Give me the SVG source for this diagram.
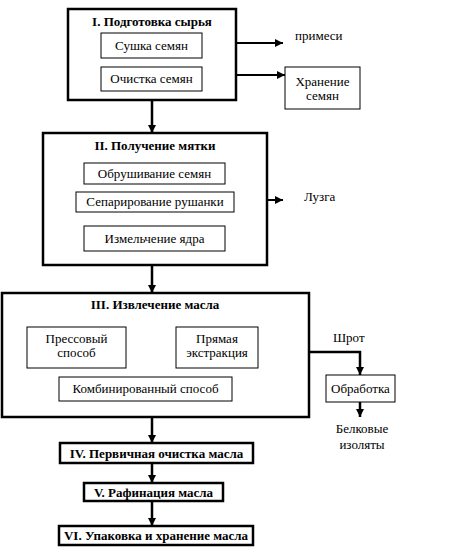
<svg xmlns="http://www.w3.org/2000/svg" width="467" height="560" viewBox="0 0 467 560">
<defs>
<marker id="ah" markerUnits="userSpaceOnUse" markerWidth="9" markerHeight="8" refX="8" refY="4" orient="auto">
<path d="M0,0 L8,4 L0,8 z" fill="#000"/>
</marker>
<style>
.big{fill:#fff;stroke:#000;stroke-width:2.5}
.sm{fill:#fff;stroke:#000;stroke-width:1}
text{font-family:'Liberation Serif','DejaVu Serif','Times New Roman',serif;font-size:13px;fill:#000;text-anchor:middle}
.b{font-weight:bold}
.l{text-anchor:start}
.c{fill:none;stroke:#000;stroke-width:2.5}
.c2{fill:none;stroke:#000;stroke-width:2}
</style>
</defs>
<rect width="467" height="560" fill="#fff"/>
<g id="connectors">
<line class="c" x1="152" y1="100" x2="152" y2="133" marker-end="url(#ah)"/>
<line class="c" x1="152" y1="265" x2="152" y2="293" marker-end="url(#ah)"/>
<line class="c" x1="152" y1="417" x2="152" y2="443" marker-end="url(#ah)"/>
<line class="c" x1="152" y1="463" x2="152" y2="483" marker-end="url(#ah)"/>
<line class="c" x1="152" y1="501" x2="152" y2="526" marker-end="url(#ah)"/>
<line class="c2" x1="202" y1="43" x2="283" y2="43" marker-end="url(#ah)"/>
<line class="c2" x1="202" y1="75" x2="285" y2="75" marker-end="url(#ah)"/>
<line class="c2" x1="234" y1="200" x2="283" y2="200" marker-end="url(#ah)"/>
<polyline class="c" points="309,352 360,352 360,375" marker-end="url(#ah)"/>
<line class="c" x1="360" y1="402" x2="360" y2="417" marker-end="url(#ah)"/>
</g>
<g id="stage1">
<rect class="big" x="68" y="9" width="168" height="91"/>
<text class="b" x="152" y="26">I. Подготовка сырья</text>
</g>
<g id="drying">
<rect class="sm" x="101" y="33" width="101" height="25"/>
<text x="151.5" y="50">Сушка семян</text>
</g>
<g id="cleaning">
<rect class="sm" x="101" y="67" width="101" height="24"/>
<text x="151.5" y="83">Очистка семян</text>
</g>
<g id="impurities">
<text class="l" x="295" y="40">примеси</text>
</g>
<g id="storage-seeds">
<rect class="sm" x="285" y="67" width="75" height="42"/>
<text x="322.5" y="86">Хранение</text>
<text x="322.5" y="100">семян</text>
</g>
<g id="stage2">
<rect class="big" x="43" y="133" width="224" height="132"/>
<text class="b" x="155" y="150">II. Получение мятки</text>
</g>
<g id="hulling">
<rect class="sm" x="84" y="163" width="141" height="21"/>
<text x="154.5" y="178">Обрушивание семян</text>
</g>
<g id="separation">
<rect class="sm" x="76" y="192" width="158" height="20"/>
<text x="155" y="206">Сепарирование рушанки</text>
</g>
<g id="husk">
<text class="l" x="304" y="201">Лузга</text>
</g>
<g id="grinding">
<rect class="sm" x="84" y="226" width="141" height="25"/>
<text x="154.5" y="243">Измельчение ядра</text>
</g>
<g id="stage3">
<rect class="big" x="2" y="293" width="307" height="124"/>
<text class="b" x="155" y="309">III. Извлечение масла</text>
</g>
<g id="pressing">
<rect class="sm" x="27" y="327" width="99" height="41"/>
<text x="76.5" y="343">Прессовый</text>
<text x="76.5" y="357">способ</text>
</g>
<g id="extraction">
<rect class="sm" x="176" y="327" width="82" height="41"/>
<text x="217" y="343">Прямая</text>
<text x="217" y="357">экстракция</text>
</g>
<g id="combined">
<rect class="sm" x="59" y="377" width="173" height="24"/>
<text x="145.5" y="393">Комбинированный способ</text>
</g>
<g id="meal">
<text class="l" x="333" y="342">Шрот</text>
</g>
<g id="processing">
<rect class="sm" x="326" y="375" width="69" height="27"/>
<text x="360.5" y="393">Обработка</text>
</g>
<g id="isolates">
<text x="362" y="433">Белковые</text>
<text x="362" y="449">изоляты</text>
</g>
<g id="stage4">
<rect class="big" x="60" y="443" width="193" height="20"/>
<text class="b" x="156.5" y="458">IV. Первичная очистка масла</text>
</g>
<g id="stage5">
<rect class="big" x="84" y="483" width="139" height="18"/>
<text class="b" x="153.5" y="497">V. Рафинация масла</text>
</g>
<g id="stage6">
<rect class="big" x="59" y="526" width="194" height="19"/>
<text class="b" x="156" y="540">VI. Упаковка и хранение масла</text>
</g>
</svg>
